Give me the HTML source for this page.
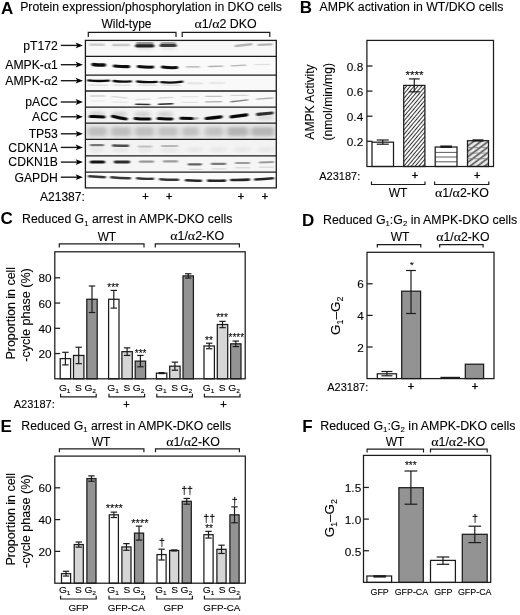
<!DOCTYPE html><html><head><meta charset="utf-8"><title>AMPK figure</title>
<style>html,body{margin:0;padding:0;background:#fff}svg{display:block}text{font-family:'Liberation Sans', sans-serif}</style></head><body>
<svg width="520" height="615" viewBox="0 0 520 615">
<defs>
<filter id="b1" filterUnits="userSpaceOnUse" x="80" y="36" width="200" height="156"><feGaussianBlur stdDeviation="1.2 0.7"/></filter>
<filter id="b2" filterUnits="userSpaceOnUse" x="80" y="36" width="200" height="156"><feGaussianBlur stdDeviation="2 1.6"/></filter>
<filter id="b0" filterUnits="userSpaceOnUse" x="80" y="36" width="200" height="156"><feGaussianBlur stdDeviation="0.9 0.5"/></filter>
<pattern id="hatch" width="2.9" height="2.9" patternUnits="userSpaceOnUse" patternTransform="rotate(-50)"><rect width="2.9" height="2.9" fill="#fff"/><line x1="0" y1="1.4" x2="2.9" y2="1.4" stroke="#222" stroke-width="0.95"/></pattern>
<pattern id="hatchg" width="4.4" height="4.4" patternUnits="userSpaceOnUse" patternTransform="rotate(-37)"><rect width="4.4" height="4.4" fill="#ececec"/><line x1="0" y1="2" x2="4.4" y2="2" stroke="#5a5a5a" stroke-width="1.7"/></pattern>
</defs>
<rect width="520" height="615" fill="#fff"/>
<text x="1.00" y="13.70" font-size="17" font-weight="bold" fill="#000">A</text>
<text transform="translate(20.20,10.80) scale(1.0,1)" font-size="12.00" text-anchor="start" font-weight="normal" fill="#000" stroke="#000" stroke-width="0.1"  textLength="261.80" lengthAdjust="spacingAndGlyphs">Protein expression/phosphorylation in DKO cells</text>
<text transform="translate(101.50,28.30) scale(1.0,1)" font-size="12.00" text-anchor="start" font-weight="normal" fill="#000" stroke="#000" stroke-width="0.1" >Wild-type</text>
<text transform="translate(194.50,28.30) scale(1.0,1)" font-size="12.00" text-anchor="start" font-weight="normal" fill="#000" stroke="#000" stroke-width="0.1"  textLength="62.20" lengthAdjust="spacingAndGlyphs"><tspan font-family="Liberation Serif" font-size="13.5">α</tspan>1/<tspan font-family="Liberation Serif" font-size="13.5">α</tspan>2 DKO</text>
<polyline points="88.30,37.00 88.30,32.40 176.00,32.40 176.00,37.00" fill="none" stroke="#1c1c1c" stroke-width="1.2"/>
<polyline points="182.20,37.00 182.20,32.40 269.80,32.40 269.80,37.00" fill="none" stroke="#1c1c1c" stroke-width="1.2"/>
<rect x="85.4" y="40.4" width="190.9" height="16.0" fill="#f8f8f8"/>
<rect x="85.4" y="56.4" width="190.9" height="18.699999999999996" fill="#fafafa"/>
<rect x="85.4" y="75.1" width="190.9" height="15.900000000000006" fill="#f9f9f9"/>
<rect x="85.4" y="91" width="190.9" height="16.200000000000003" fill="#f9f9f9"/>
<rect x="85.4" y="107.2" width="190.9" height="16.0" fill="#f3f3f3"/>
<rect x="85.4" y="123.2" width="190.9" height="16.200000000000003" fill="#e6e6e6"/>
<rect x="85.4" y="139.4" width="190.9" height="16.5" fill="#f3f3f3"/>
<rect x="85.4" y="155.9" width="190.9" height="16.19999999999999" fill="#f5f5f5"/>
<rect x="85.4" y="172.1" width="190.9" height="15.800000000000011" fill="#fbfbfb"/>
<path d="M90.3 44.6 Q97.0 44.7 103.7 44.8" fill="none" stroke="#000" stroke-width="2.6" stroke-linecap="round" opacity="0.17" filter="url(#b1)"/>
<path d="M113.3 45.0 Q121.0 45.0 128.7 45.0" fill="none" stroke="#000" stroke-width="2.6" stroke-linecap="round" opacity="0.19" filter="url(#b1)"/>
<path d="M136.6 45.8 Q144.8 45.8 152.9 45.8" fill="none" stroke="#000" stroke-width="3.2" stroke-linecap="round" opacity="0.85" filter="url(#b1)"/>
<path d="M137.2 43.2 Q144.8 43.2 152.3 43.2" fill="none" stroke="#000" stroke-width="2.4" stroke-linecap="round" opacity="0.4" filter="url(#b1)"/>
<rect x="137.0" y="46.0" width="16.0" height="4.0" rx="3" fill="#000" opacity="0.08" filter="url(#b2)"/>
<path d="M161.0 45.5 Q168.2 45.5 175.3 45.5" fill="none" stroke="#000" stroke-width="3.0" stroke-linecap="round" opacity="0.75" filter="url(#b1)"/>
<path d="M161.7 43.2 Q168.2 43.2 174.8 43.2" fill="none" stroke="#000" stroke-width="2.4" stroke-linecap="round" opacity="0.35" filter="url(#b1)"/>
<rect x="161.0" y="46.0" width="15.0" height="4.0" rx="3" fill="#000" opacity="0.07" filter="url(#b2)"/>
<path d="M235.7 46.0 Q243.5 45.1 251.3 44.2" fill="none" stroke="#000" stroke-width="2.4" stroke-linecap="round" opacity="0.27" filter="url(#b1)"/>
<path d="M258.7 44.9 Q265.1 44.6 271.6 44.4" fill="none" stroke="#000" stroke-width="2.4" stroke-linecap="round" opacity="0.27" filter="url(#b1)"/>
<path d="M93.0 64.5 Q98.7 65.2 104.4 65.0" fill="none" stroke="#000" stroke-width="3.4" stroke-linecap="round" opacity="0.95" filter="url(#b0)"/>
<path d="M114.4 66.0 Q121.5 66.7 128.6 66.6" fill="none" stroke="#000" stroke-width="3.2" stroke-linecap="round" opacity="0.95" filter="url(#b0)"/>
<path d="M138.4 66.4 Q145.6 67.3 152.7 67.1" fill="none" stroke="#000" stroke-width="3.0" stroke-linecap="round" opacity="0.95" filter="url(#b0)"/>
<path d="M162.5 67.0 Q169.6 68.1 176.7 67.6" fill="none" stroke="#000" stroke-width="3.0" stroke-linecap="round" opacity="0.95" filter="url(#b0)"/>
<path d="M186.5 66.8 Q193.0 66.8 199.5 66.8" fill="none" stroke="#000" stroke-width="1.3" stroke-linecap="round" opacity="0.3" filter="url(#b0)"/>
<path d="M208.6 66.5 Q215.6 66.3 222.7 66.1" fill="none" stroke="#000" stroke-width="1.3" stroke-linecap="round" opacity="0.3" filter="url(#b0)"/>
<path d="M231.1 65.8 Q238.4 65.5 245.7 65.2" fill="none" stroke="#000" stroke-width="1.3" stroke-linecap="round" opacity="0.28" filter="url(#b0)"/>
<path d="M254.6 64.7 Q262.2 64.5 269.8 64.3" fill="none" stroke="#000" stroke-width="1.2" stroke-linecap="round" opacity="0.1" filter="url(#b0)"/>
<path d="M88.2 80.4 Q98.5 81.5 108.8 80.6" fill="none" stroke="#000" stroke-width="2.3" stroke-linecap="round" opacity="0.95" filter="url(#b0)"/>
<path d="M113.7 81.0 Q122.2 82.2 130.8 81.3" fill="none" stroke="#000" stroke-width="2.3" stroke-linecap="round" opacity="0.95" filter="url(#b0)"/>
<path d="M137.2 81.5 Q147.0 82.7 156.8 81.8" fill="none" stroke="#000" stroke-width="2.3" stroke-linecap="round" opacity="0.95" filter="url(#b0)"/>
<path d="M161.2 82.2 Q171.8 83.1 182.3 81.6" fill="none" stroke="#000" stroke-width="2.3" stroke-linecap="round" opacity="0.95" filter="url(#b0)"/>
<path d="M88.8 85.0 Q98.0 85.2 107.2 85.3" fill="none" stroke="#000" stroke-width="1.6" stroke-linecap="round" opacity="0.1" filter="url(#b1)"/>
<path d="M113.8 85.0 Q122.0 85.2 130.2 85.3" fill="none" stroke="#000" stroke-width="1.6" stroke-linecap="round" opacity="0.1" filter="url(#b1)"/>
<path d="M137.8 85.0 Q147.0 85.2 156.2 85.3" fill="none" stroke="#000" stroke-width="1.6" stroke-linecap="round" opacity="0.1" filter="url(#b1)"/>
<path d="M161.8 85.0 Q171.0 85.2 180.2 85.3" fill="none" stroke="#000" stroke-width="1.6" stroke-linecap="round" opacity="0.1" filter="url(#b1)"/>
<path d="M188.2 83.2 Q195.0 83.2 201.8 83.2" fill="none" stroke="#000" stroke-width="2.5" stroke-linecap="round" opacity="0.07" filter="url(#b1)"/>
<path d="M210.2 83.0 Q217.0 83.0 223.8 83.0" fill="none" stroke="#000" stroke-width="2.5" stroke-linecap="round" opacity="0.06" filter="url(#b1)"/>
<path d="M90.5 96.1 Q97.5 96.1 104.5 96.1" fill="none" stroke="#000" stroke-width="1.5" stroke-linecap="round" opacity="0.16" filter="url(#b1)"/>
<path d="M90.8 101.0 Q97.5 101.0 104.2 101.0" fill="none" stroke="#000" stroke-width="1.5" stroke-linecap="round" opacity="0.05" filter="url(#b1)"/>
<path d="M111.8 96.6 Q119.2 97.3 126.8 98.0" fill="none" stroke="#000" stroke-width="1.5" stroke-linecap="round" opacity="0.12" filter="url(#b1)"/>
<path d="M112.7 102.0 Q120.0 102.2 127.3 102.5" fill="none" stroke="#000" stroke-width="1.4" stroke-linecap="round" opacity="0.06" filter="url(#b1)"/>
<path d="M135.7 99.6 Q142.7 99.4 149.7 99.2" fill="none" stroke="#000" stroke-width="1.3" stroke-linecap="round" opacity="0.12" filter="url(#b1)"/>
<path d="M135.8 104.2 Q142.7 104.3 149.6 104.5" fill="none" stroke="#000" stroke-width="1.5" stroke-linecap="round" opacity="0.8" filter="url(#b0)"/>
<path d="M158.7 98.0 Q165.7 97.7 172.8 97.4" fill="none" stroke="#000" stroke-width="1.3" stroke-linecap="round" opacity="0.14" filter="url(#b1)"/>
<path d="M158.8 104.3 Q165.7 104.0 172.7 103.8" fill="none" stroke="#000" stroke-width="1.5" stroke-linecap="round" opacity="0.85" filter="url(#b0)"/>
<path d="M181.6 96.7 Q189.7 96.7 197.7 96.7" fill="none" stroke="#000" stroke-width="1.2" stroke-linecap="round" opacity="0.08" filter="url(#b1)"/>
<path d="M181.6 102.4 Q189.7 102.4 197.7 102.4" fill="none" stroke="#000" stroke-width="1.2" stroke-linecap="round" opacity="0.08" filter="url(#b1)"/>
<path d="M205.6 96.3 Q213.7 96.3 221.7 96.3" fill="none" stroke="#000" stroke-width="1.2" stroke-linecap="round" opacity="0.22" filter="url(#b0)"/>
<path d="M205.7 101.9 Q213.7 101.8 221.7 101.7" fill="none" stroke="#000" stroke-width="1.3" stroke-linecap="round" opacity="0.3" filter="url(#b0)"/>
<path d="M231.0 95.3 Q239.4 95.3 247.7 95.3" fill="none" stroke="#000" stroke-width="1.2" stroke-linecap="round" opacity="0.14" filter="url(#b0)"/>
<path d="M231.1 101.8 Q239.4 100.8 247.6 99.9" fill="none" stroke="#000" stroke-width="1.4" stroke-linecap="round" opacity="0.5" filter="url(#b0)"/>
<path d="M256.6 99.2 Q264.6 98.6 272.7 98.0" fill="none" stroke="#000" stroke-width="1.3" stroke-linecap="round" opacity="0.3" filter="url(#b0)"/>
<rect x="89.8" y="111.5" width="14.7" height="5.5" rx="3" fill="#000" opacity="0.13" filter="url(#b2)"/>
<rect x="112.0" y="111.5" width="14.8" height="5.5" rx="3" fill="#000" opacity="0.13" filter="url(#b2)"/>
<rect x="134.6" y="111.5" width="15.7" height="5.5" rx="3" fill="#000" opacity="0.13" filter="url(#b2)"/>
<rect x="157.7" y="111.5" width="14.7" height="5.5" rx="3" fill="#000" opacity="0.13" filter="url(#b2)"/>
<path d="M90.3 116.6 Q97.2 116.4 104.0 117.0" fill="none" stroke="#000" stroke-width="3.0" stroke-linecap="round" opacity="0.97" filter="url(#b0)"/>
<path d="M112.5 116.3 Q119.4 118.2 126.3 118.9" fill="none" stroke="#000" stroke-width="3.0" stroke-linecap="round" opacity="0.97" filter="url(#b0)"/>
<path d="M135.1 118.5 Q142.4 119.3 149.8 119.0" fill="none" stroke="#000" stroke-width="3.0" stroke-linecap="round" opacity="0.97" filter="url(#b0)"/>
<path d="M158.2 118.6 Q165.1 119.3 171.9 118.9" fill="none" stroke="#000" stroke-width="3.0" stroke-linecap="round" opacity="0.97" filter="url(#b0)"/>
<path d="M181.0 118.2 Q186.5 118.4 192.0 118.6" fill="none" stroke="#000" stroke-width="3.0" stroke-linecap="round" opacity="0.97" filter="url(#b0)"/>
<path d="M193.1 118.6 Q195.2 118.5 197.4 118.4" fill="none" stroke="#000" stroke-width="2.2" stroke-linecap="round" opacity="0.3" filter="url(#b1)"/>
<path d="M206.2 118.5 Q213.6 117.7 221.1 116.8" fill="none" stroke="#000" stroke-width="3.2" stroke-linecap="round" opacity="0.97" filter="url(#b0)"/>
<path d="M231.2 116.9 Q238.9 115.8 246.7 114.8" fill="none" stroke="#000" stroke-width="3.2" stroke-linecap="round" opacity="0.97" filter="url(#b0)"/>
<path d="M257.6 114.4 Q264.9 113.7 272.1 113.0" fill="none" stroke="#000" stroke-width="3.2" stroke-linecap="round" opacity="0.8" filter="url(#b0)"/>
<rect x="257.0" y="115.0" width="16.0" height="5.0" rx="3" fill="#000" opacity="0.1" filter="url(#b2)"/>
<rect x="88.0" y="127.0" width="19.0" height="9.0" rx="3" fill="#000" opacity="0.17" filter="url(#b2)"/>
<rect x="111.0" y="127.0" width="20.0" height="9.0" rx="3" fill="#000" opacity="0.17" filter="url(#b2)"/>
<rect x="135.0" y="127.0" width="19.0" height="9.0" rx="3" fill="#000" opacity="0.16" filter="url(#b2)"/>
<rect x="158.0" y="127.0" width="20.0" height="9.0" rx="3" fill="#000" opacity="0.15" filter="url(#b2)"/>
<rect x="182.0" y="127.0" width="17.0" height="9.0" rx="3" fill="#000" opacity="0.15" filter="url(#b2)"/>
<rect x="205.0" y="127.0" width="18.3" height="9.0" rx="3" fill="#000" opacity="0.15" filter="url(#b2)"/>
<rect x="227.0" y="127.0" width="21.3" height="9.0" rx="3" fill="#000" opacity="0.21" filter="url(#b2)"/>
<rect x="251.0" y="127.0" width="23.2" height="9.0" rx="3" fill="#000" opacity="0.2" filter="url(#b2)"/>
<path d="M90.9 145.2 Q97.0 145.2 103.1 145.2" fill="none" stroke="#000" stroke-width="2.2" stroke-linecap="round" opacity="0.5" filter="url(#b1)"/>
<path d="M113.2 145.5 Q120.5 145.7 127.9 145.8" fill="none" stroke="#000" stroke-width="2.6" stroke-linecap="round" opacity="0.68" filter="url(#b1)"/>
<path d="M138.8 146.6 Q145.1 146.6 151.3 146.6" fill="none" stroke="#000" stroke-width="2" stroke-linecap="round" opacity="0.2" filter="url(#b1)"/>
<path d="M162.0 146.0 Q169.6 146.0 177.2 146.0" fill="none" stroke="#000" stroke-width="2" stroke-linecap="round" opacity="0.24" filter="url(#b1)"/>
<rect x="90.0" y="148.0" width="14.0" height="4.0" rx="3" fill="#000" opacity="0.05" filter="url(#b2)"/>
<rect x="112.0" y="148.0" width="17.0" height="4.0" rx="3" fill="#000" opacity="0.05" filter="url(#b2)"/>
<rect x="138.0" y="148.0" width="14.0" height="4.0" rx="3" fill="#000" opacity="0.05" filter="url(#b2)"/>
<rect x="161.0" y="148.0" width="17.0" height="4.0" rx="3" fill="#000" opacity="0.05" filter="url(#b2)"/>
<rect x="187.0" y="147.5" width="15.0" height="4.0" rx="3" fill="#000" opacity="0.05" filter="url(#b2)"/>
<rect x="210.0" y="147.5" width="16.0" height="4.0" rx="3" fill="#000" opacity="0.05" filter="url(#b2)"/>
<rect x="234.0" y="147.5" width="16.0" height="4.0" rx="3" fill="#000" opacity="0.05" filter="url(#b2)"/>
<rect x="258.0" y="147.5" width="16.0" height="4.0" rx="3" fill="#000" opacity="0.05" filter="url(#b2)"/>
<path d="M91.4 162.0 Q97.5 162.0 103.6 162.0" fill="none" stroke="#000" stroke-width="3.2" stroke-linecap="round" opacity="0.92" filter="url(#b1)"/>
<path d="M115.2 162.0 Q122.0 162.0 128.8 162.0" fill="none" stroke="#000" stroke-width="2.8" stroke-linecap="round" opacity="0.82" filter="url(#b1)"/>
<path d="M140.0 161.6 Q146.5 161.6 153.0 161.6" fill="none" stroke="#000" stroke-width="2.3" stroke-linecap="round" opacity="0.38" filter="url(#b1)"/>
<path d="M164.0 161.4 Q170.5 161.4 177.0 161.4" fill="none" stroke="#000" stroke-width="2.3" stroke-linecap="round" opacity="0.36" filter="url(#b1)"/>
<path d="M188.8 164.3 Q194.9 164.3 200.9 164.3" fill="none" stroke="#000" stroke-width="2.3" stroke-linecap="round" opacity="0.6" filter="url(#b1)"/>
<path d="M211.9 163.9 Q218.5 163.9 225.1 163.9" fill="none" stroke="#000" stroke-width="2.2" stroke-linecap="round" opacity="0.5" filter="url(#b1)"/>
<path d="M235.8 162.9 Q242.5 162.9 249.2 162.9" fill="none" stroke="#000" stroke-width="2" stroke-linecap="round" opacity="0.36" filter="url(#b1)"/>
<path d="M259.8 162.5 Q266.5 162.2 273.2 162.0" fill="none" stroke="#000" stroke-width="2" stroke-linecap="round" opacity="0.36" filter="url(#b1)"/>
<path d="M189.5 169.3 Q195.5 169.3 201.5 169.3" fill="none" stroke="#000" stroke-width="1" stroke-linecap="round" opacity="0.15" filter="url(#b1)"/>
<path d="M212.5 168.9 Q219.0 168.9 225.5 168.9" fill="none" stroke="#000" stroke-width="1" stroke-linecap="round" opacity="0.15" filter="url(#b1)"/>
<path d="M235.5 167.8 Q242.5 167.8 249.5 167.8" fill="none" stroke="#000" stroke-width="1" stroke-linecap="round" opacity="0.15" filter="url(#b1)"/>
<path d="M259.5 167.2 Q266.5 167.2 273.5 167.2" fill="none" stroke="#000" stroke-width="1" stroke-linecap="round" opacity="0.15" filter="url(#b1)"/>
<path d="M89.0 176.3 Q96.9 177.0 104.9 177.3" fill="none" stroke="#000" stroke-width="2.4" stroke-linecap="round" opacity="0.78" filter="url(#b1)"/>
<path d="M111.2 177.3 Q120.5 178.4 129.9 178.3" fill="none" stroke="#000" stroke-width="2.4" stroke-linecap="round" opacity="0.78" filter="url(#b1)"/>
<path d="M137.2 178.3 Q145.1 179.2 153.0 178.8" fill="none" stroke="#000" stroke-width="2.4" stroke-linecap="round" opacity="0.78" filter="url(#b1)"/>
<path d="M160.2 179.2 Q169.1 180.0 178.0 179.7" fill="none" stroke="#000" stroke-width="2.4" stroke-linecap="round" opacity="0.78" filter="url(#b1)"/>
<path d="M186.1 180.3 Q193.4 180.9 200.8 180.7" fill="none" stroke="#000" stroke-width="2.6" stroke-linecap="round" opacity="0.85" filter="url(#b1)"/>
<path d="M208.3 180.6 Q216.6 181.0 224.9 180.6" fill="none" stroke="#000" stroke-width="2.6" stroke-linecap="round" opacity="0.85" filter="url(#b1)"/>
<path d="M231.3 180.0 Q240.1 180.2 248.9 179.6" fill="none" stroke="#000" stroke-width="2.6" stroke-linecap="round" opacity="0.85" filter="url(#b1)"/>
<path d="M255.3 179.5 Q264.1 179.3 272.9 178.3" fill="none" stroke="#000" stroke-width="2.6" stroke-linecap="round" opacity="0.85" filter="url(#b1)"/>
<line x1="85.40" y1="56.40" x2="276.30" y2="56.40" stroke="#1c1c1c" stroke-width="1.3"/>
<line x1="85.40" y1="75.10" x2="276.30" y2="75.10" stroke="#1c1c1c" stroke-width="1.3"/>
<line x1="85.40" y1="91.00" x2="276.30" y2="91.00" stroke="#1c1c1c" stroke-width="1.3"/>
<line x1="85.40" y1="107.20" x2="276.30" y2="107.20" stroke="#1c1c1c" stroke-width="1.3"/>
<line x1="85.40" y1="123.20" x2="276.30" y2="123.20" stroke="#1c1c1c" stroke-width="1.3"/>
<line x1="85.40" y1="139.40" x2="276.30" y2="139.40" stroke="#1c1c1c" stroke-width="1.3"/>
<line x1="85.40" y1="155.90" x2="276.30" y2="155.90" stroke="#1c1c1c" stroke-width="1.3"/>
<line x1="85.40" y1="172.10" x2="276.30" y2="172.10" stroke="#1c1c1c" stroke-width="1.3"/>
<rect x="85.40" y="40.40" width="190.90" height="147.50" fill="none" stroke="#1c1c1c" stroke-width="1.3" />
<text transform="translate(57.80,49.70) scale(1.0,1)" font-size="12.20" text-anchor="end" font-weight="normal" fill="#000" stroke="#000" stroke-width="0.1" >pT172</text>
<line x1="60.80" y1="45.40" x2="79.00" y2="45.40" stroke="#1c1c1c" stroke-width="1.4"/>
<path d="M82.9 45.4 L75.6 42.5 L77.4 45.4 L75.6 48.3 Z" fill="#000"/>
<text transform="translate(57.80,69.00) scale(1.0,1)" font-size="12.20" text-anchor="end" font-weight="normal" fill="#000" stroke="#000" stroke-width="0.1" >AMPK-<tspan font-family="Liberation Serif" font-size="13.5">α</tspan>1</text>
<line x1="60.80" y1="64.70" x2="79.00" y2="64.70" stroke="#1c1c1c" stroke-width="1.4"/>
<path d="M82.9 64.7 L75.6 61.8 L77.4 64.7 L75.6 67.6 Z" fill="#000"/>
<text transform="translate(57.80,85.00) scale(1.0,1)" font-size="12.20" text-anchor="end" font-weight="normal" fill="#000" stroke="#000" stroke-width="0.1" >AMPK-<tspan font-family="Liberation Serif" font-size="13.5">α</tspan>2</text>
<line x1="60.80" y1="80.70" x2="79.00" y2="80.70" stroke="#1c1c1c" stroke-width="1.4"/>
<path d="M82.9 80.7 L75.6 77.8 L77.4 80.7 L75.6 83.6 Z" fill="#000"/>
<text transform="translate(57.80,106.30) scale(1.0,1)" font-size="12.20" text-anchor="end" font-weight="normal" fill="#000" stroke="#000" stroke-width="0.1" >pACC</text>
<line x1="60.80" y1="102.00" x2="79.00" y2="102.00" stroke="#1c1c1c" stroke-width="1.4"/>
<path d="M82.9 102.0 L75.6 99.1 L77.4 102.0 L75.6 104.9 Z" fill="#000"/>
<text transform="translate(57.80,121.10) scale(1.0,1)" font-size="12.20" text-anchor="end" font-weight="normal" fill="#000" stroke="#000" stroke-width="0.1" >ACC</text>
<line x1="60.80" y1="116.80" x2="79.00" y2="116.80" stroke="#1c1c1c" stroke-width="1.4"/>
<path d="M82.9 116.8 L75.6 113.9 L77.4 116.8 L75.6 119.7 Z" fill="#000"/>
<text transform="translate(57.80,138.10) scale(1.0,1)" font-size="12.20" text-anchor="end" font-weight="normal" fill="#000" stroke="#000" stroke-width="0.1" >TP53</text>
<line x1="60.80" y1="133.80" x2="79.00" y2="133.80" stroke="#1c1c1c" stroke-width="1.4"/>
<path d="M82.9 133.8 L75.6 130.9 L77.4 133.8 L75.6 136.7 Z" fill="#000"/>
<text transform="translate(57.80,151.70) scale(1.0,1)" font-size="12.20" text-anchor="end" font-weight="normal" fill="#000" stroke="#000" stroke-width="0.1" >CDKN1A</text>
<line x1="60.80" y1="147.40" x2="79.00" y2="147.40" stroke="#1c1c1c" stroke-width="1.4"/>
<path d="M82.9 147.4 L75.6 144.5 L77.4 147.4 L75.6 150.3 Z" fill="#000"/>
<text transform="translate(57.80,166.40) scale(1.0,1)" font-size="12.20" text-anchor="end" font-weight="normal" fill="#000" stroke="#000" stroke-width="0.1" >CDKN1B</text>
<line x1="60.80" y1="162.10" x2="79.00" y2="162.10" stroke="#1c1c1c" stroke-width="1.4"/>
<path d="M82.9 162.1 L75.6 159.2 L77.4 162.1 L75.6 165.0 Z" fill="#000"/>
<text transform="translate(57.80,181.50) scale(1.0,1)" font-size="12.20" text-anchor="end" font-weight="normal" fill="#000" stroke="#000" stroke-width="0.1" >GAPDH</text>
<line x1="60.80" y1="177.20" x2="79.00" y2="177.20" stroke="#1c1c1c" stroke-width="1.4"/>
<path d="M82.9 177.2 L75.6 174.3 L77.4 177.2 L75.6 180.1 Z" fill="#000"/>
<text transform="translate(40.00,200.80) scale(1.0,1)" font-size="12.00" text-anchor="start" font-weight="normal" fill="#000" stroke="#000" stroke-width="0.1"  textLength="44.80" lengthAdjust="spacingAndGlyphs">A21387:</text>
<text transform="translate(145.40,199.50) scale(1,1)" font-size="11.00" text-anchor="middle" font-weight="normal" fill="#000" stroke="#000" stroke-width="0.35" >+</text>
<text transform="translate(169.20,199.50) scale(1,1)" font-size="11.00" text-anchor="middle" font-weight="normal" fill="#000" stroke="#000" stroke-width="0.35" >+</text>
<text transform="translate(241.00,199.50) scale(1,1)" font-size="11.00" text-anchor="middle" font-weight="normal" fill="#000" stroke="#000" stroke-width="0.35" >+</text>
<text transform="translate(265.00,199.50) scale(1,1)" font-size="11.00" text-anchor="middle" font-weight="normal" fill="#000" stroke="#000" stroke-width="0.35" >+</text>
<text x="299.80" y="13.30" font-size="17" font-weight="bold" fill="#000">B</text>
<text transform="translate(319.60,10.90) scale(1.0,1)" font-size="12.00" text-anchor="start" font-weight="normal" fill="#000" stroke="#000" stroke-width="0.1"  textLength="183.80" lengthAdjust="spacingAndGlyphs">AMPK activation in WT/DKO cells</text>
<rect x="372.00" y="142.18" width="21.50" height="24.32" fill="#fff" stroke="#1c1c1c" stroke-width="1.25" />
<line x1="382.75" y1="140.00" x2="382.75" y2="144.20" stroke="#1c1c1c" stroke-width="1.2"/>
<line x1="376.75" y1="140.00" x2="388.75" y2="140.00" stroke="#1c1c1c" stroke-width="1.2"/>
<line x1="376.75" y1="144.20" x2="388.75" y2="144.20" stroke="#1c1c1c" stroke-width="1.2"/>
<rect x="403.7" y="85.4" width="21.2" height="81.10" fill="url(#hatch)" stroke="#1c1c1c" stroke-width="1.25"/>
<line x1="414.30" y1="78.90" x2="414.30" y2="91.80" stroke="#1c1c1c" stroke-width="1.2"/>
<line x1="408.90" y1="78.90" x2="419.70" y2="78.90" stroke="#1c1c1c" stroke-width="1.2"/>
<line x1="408.90" y1="91.80" x2="419.70" y2="91.80" stroke="#1c1c1c" stroke-width="1.2"/>
<text transform="translate(414.50,78.60) scale(1.0,1)" font-size="11.60" text-anchor="middle" font-weight="normal" fill="#000" stroke="#000" stroke-width="0.1" >****</text>
<rect x="435.20" y="147.00" width="21.80" height="19.50" fill="#fff" stroke="#1c1c1c" stroke-width="1.25" />
<line x1="435.20" y1="152.40" x2="457.00" y2="152.40" stroke="#333" stroke-width="0.8"/>
<line x1="435.20" y1="157.00" x2="457.00" y2="157.00" stroke="#333" stroke-width="0.8"/>
<line x1="435.20" y1="161.80" x2="457.00" y2="161.80" stroke="#333" stroke-width="0.8"/>
<line x1="440.30" y1="146.70" x2="451.90" y2="146.70" stroke="#1c1c1c" stroke-width="2.5"/>
<rect x="467.5" y="140.7" width="21" height="25.80" fill="url(#hatchg)" stroke="#1c1c1c" stroke-width="1.25"/>
<line x1="467.50" y1="147.50" x2="488.50" y2="147.50" stroke="#777" stroke-width="0.7"/>
<line x1="467.50" y1="153.10" x2="488.50" y2="153.10" stroke="#777" stroke-width="0.7"/>
<line x1="467.50" y1="158.70" x2="488.50" y2="158.70" stroke="#777" stroke-width="0.7"/>
<line x1="472.50" y1="140.40" x2="483.50" y2="140.40" stroke="#1c1c1c" stroke-width="2.2"/>
<rect x="366.90" y="40.40" width="126.60" height="126.10" fill="none" stroke="#1c1c1c" stroke-width="1.25" />
<line x1="366.90" y1="141.30" x2="372.50" y2="141.30" stroke="#1c1c1c" stroke-width="1.25"/>
<text transform="translate(363.20,145.80) scale(1.0,1)" font-size="11.80" text-anchor="end" font-weight="normal" fill="#000" stroke="#000" stroke-width="0.1" >0.2</text>
<line x1="366.90" y1="116.20" x2="372.50" y2="116.20" stroke="#1c1c1c" stroke-width="1.25"/>
<text transform="translate(363.20,120.70) scale(1.0,1)" font-size="11.80" text-anchor="end" font-weight="normal" fill="#000" stroke="#000" stroke-width="0.1" >0.4</text>
<line x1="366.90" y1="91.10" x2="372.50" y2="91.10" stroke="#1c1c1c" stroke-width="1.25"/>
<text transform="translate(363.20,95.60) scale(1.0,1)" font-size="11.80" text-anchor="end" font-weight="normal" fill="#000" stroke="#000" stroke-width="0.1" >0.6</text>
<line x1="366.90" y1="66.00" x2="372.50" y2="66.00" stroke="#1c1c1c" stroke-width="1.25"/>
<text transform="translate(363.20,70.50) scale(1.0,1)" font-size="11.80" text-anchor="end" font-weight="normal" fill="#000" stroke="#000" stroke-width="0.1" >0.8</text>
<text transform="translate(313.90,102.00) rotate(-90) scale(1.0,1)" font-size="12.10" text-anchor="middle" fill="#000" stroke="#000" stroke-width="0.1">AMPK Activity</text>
<text transform="translate(332.40,101.80) rotate(-90) scale(1.0,1)" font-size="12.15" text-anchor="middle" fill="#000" stroke="#000" stroke-width="0.1">(nmol/min/mg)</text>
<text transform="translate(319.20,180.40) scale(1,1)" font-size="11.00" text-anchor="start" font-weight="normal" fill="#000" stroke="#000" stroke-width="0.1" >A23187:</text>
<text transform="translate(415.00,179.30) scale(1,1)" font-size="11.00" text-anchor="middle" font-weight="normal" fill="#000" stroke="#000" stroke-width="0.35" >+</text>
<text transform="translate(477.30,179.30) scale(1,1)" font-size="11.00" text-anchor="middle" font-weight="normal" fill="#000" stroke="#000" stroke-width="0.35" >+</text>
<polyline points="371.50,181.50 371.50,184.50 425.00,184.50 425.00,181.50" fill="none" stroke="#1c1c1c" stroke-width="1.2"/>
<polyline points="434.60,181.50 434.60,184.50 488.80,184.50 488.80,181.50" fill="none" stroke="#1c1c1c" stroke-width="1.2"/>
<text transform="translate(398.10,196.70) scale(1.0,1)" font-size="12.00" text-anchor="middle" font-weight="normal" fill="#000" stroke="#000" stroke-width="0.1" >WT</text>
<text transform="translate(435.00,196.70) scale(1.0,1)" font-size="12.00" text-anchor="start" font-weight="normal" fill="#000" stroke="#000" stroke-width="0.1"  textLength="53.80" lengthAdjust="spacingAndGlyphs"><tspan font-family="Liberation Serif" font-size="13.5">α</tspan>1/<tspan font-family="Liberation Serif" font-size="13.5">α</tspan>2-KO</text>
<text x="0.40" y="224.10" font-size="17" font-weight="bold" fill="#000">C</text>
<text transform="translate(22.10,223.20) scale(1.0,1)" font-size="12.00" text-anchor="start" font-weight="normal" fill="#000" stroke="#000" stroke-width="0.1"  textLength="210.20" lengthAdjust="spacingAndGlyphs">Reduced G<tspan font-size="7.6" dy="2.3">1</tspan><tspan dy="-2.3" font-size="1">&#8203;</tspan> arrest in AMPK-DKO cells</text>
<text transform="translate(106.90,240.70) scale(1.0,1)" font-size="11.90" text-anchor="middle" font-weight="normal" fill="#000" stroke="#000" stroke-width="0.1" >WT</text>
<text transform="translate(170.20,240.40) scale(1.0,1)" font-size="12.00" text-anchor="start" font-weight="normal" fill="#000" stroke="#000" stroke-width="0.1"  textLength="54.00" lengthAdjust="spacingAndGlyphs"><tspan font-family="Liberation Serif" font-size="13.5">α</tspan>1/<tspan font-family="Liberation Serif" font-size="13.5">α</tspan>2-KO</text>
<polyline points="59.30,247.40 59.30,243.90 144.00,243.90 144.00,247.40" fill="none" stroke="#1c1c1c" stroke-width="1.2"/>
<polyline points="155.30,247.40 155.30,243.90 239.40,243.90 239.40,247.40" fill="none" stroke="#1c1c1c" stroke-width="1.2"/>
<rect x="60.20" y="358.60" width="10.40" height="20.20" fill="#fff" stroke="#1c1c1c" stroke-width="1.25" />
<line x1="65.40" y1="352.29" x2="65.40" y2="364.91" stroke="#1c1c1c" stroke-width="1.2"/>
<line x1="62.20" y1="352.29" x2="68.60" y2="352.29" stroke="#1c1c1c" stroke-width="1.2"/>
<line x1="62.20" y1="364.91" x2="68.60" y2="364.91" stroke="#1c1c1c" stroke-width="1.2"/>
<rect x="73.50" y="355.44" width="10.40" height="23.36" fill="#d6d6d6" stroke="#1c1c1c" stroke-width="1.25" />
<line x1="78.70" y1="347.24" x2="78.70" y2="363.65" stroke="#1c1c1c" stroke-width="1.2"/>
<line x1="75.50" y1="347.24" x2="81.90" y2="347.24" stroke="#1c1c1c" stroke-width="1.2"/>
<line x1="75.50" y1="363.65" x2="81.90" y2="363.65" stroke="#1c1c1c" stroke-width="1.2"/>
<rect x="86.80" y="299.26" width="10.40" height="79.54" fill="#939393" stroke="#1c1c1c" stroke-width="1.25" />
<line x1="92.00" y1="286.01" x2="92.00" y2="312.52" stroke="#1c1c1c" stroke-width="1.2"/>
<line x1="88.80" y1="286.01" x2="95.20" y2="286.01" stroke="#1c1c1c" stroke-width="1.2"/>
<line x1="88.80" y1="312.52" x2="95.20" y2="312.52" stroke="#1c1c1c" stroke-width="1.2"/>
<rect x="108.60" y="299.26" width="10.40" height="79.54" fill="#fff" stroke="#1c1c1c" stroke-width="1.25" />
<line x1="113.80" y1="290.43" x2="113.80" y2="308.10" stroke="#1c1c1c" stroke-width="1.2"/>
<line x1="110.60" y1="290.43" x2="117.00" y2="290.43" stroke="#1c1c1c" stroke-width="1.2"/>
<line x1="110.60" y1="308.10" x2="117.00" y2="308.10" stroke="#1c1c1c" stroke-width="1.2"/>
<rect x="121.90" y="351.66" width="10.40" height="27.14" fill="#d6d6d6" stroke="#1c1c1c" stroke-width="1.25" />
<line x1="127.10" y1="347.87" x2="127.10" y2="355.44" stroke="#1c1c1c" stroke-width="1.2"/>
<line x1="123.90" y1="347.87" x2="130.30" y2="347.87" stroke="#1c1c1c" stroke-width="1.2"/>
<line x1="123.90" y1="355.44" x2="130.30" y2="355.44" stroke="#1c1c1c" stroke-width="1.2"/>
<rect x="135.20" y="361.12" width="10.40" height="17.68" fill="#939393" stroke="#1c1c1c" stroke-width="1.25" />
<line x1="140.40" y1="355.44" x2="140.40" y2="366.81" stroke="#1c1c1c" stroke-width="1.2"/>
<line x1="137.20" y1="355.44" x2="143.60" y2="355.44" stroke="#1c1c1c" stroke-width="1.2"/>
<line x1="137.20" y1="366.81" x2="143.60" y2="366.81" stroke="#1c1c1c" stroke-width="1.2"/>
<rect x="156.40" y="373.12" width="10.40" height="5.68" fill="#fff" stroke="#1c1c1c" stroke-width="1.25" />
<line x1="158.60" y1="373.12" x2="164.60" y2="373.12" stroke="#1c1c1c" stroke-width="2.2"/>
<rect x="169.70" y="366.18" width="10.40" height="12.62" fill="#d6d6d6" stroke="#1c1c1c" stroke-width="1.25" />
<line x1="174.90" y1="362.13" x2="174.90" y2="370.22" stroke="#1c1c1c" stroke-width="1.2"/>
<line x1="171.70" y1="362.13" x2="178.10" y2="362.13" stroke="#1c1c1c" stroke-width="1.2"/>
<line x1="171.70" y1="370.22" x2="178.10" y2="370.22" stroke="#1c1c1c" stroke-width="1.2"/>
<rect x="183.00" y="275.91" width="10.40" height="102.89" fill="#939393" stroke="#1c1c1c" stroke-width="1.25" />
<line x1="188.20" y1="273.76" x2="188.20" y2="278.05" stroke="#1c1c1c" stroke-width="1.2"/>
<line x1="185.00" y1="273.76" x2="191.40" y2="273.76" stroke="#1c1c1c" stroke-width="1.2"/>
<line x1="185.00" y1="278.05" x2="191.40" y2="278.05" stroke="#1c1c1c" stroke-width="1.2"/>
<rect x="204.00" y="345.98" width="10.40" height="32.82" fill="#fff" stroke="#1c1c1c" stroke-width="1.25" />
<line x1="209.20" y1="343.20" x2="209.20" y2="348.75" stroke="#1c1c1c" stroke-width="1.2"/>
<line x1="206.00" y1="343.20" x2="212.40" y2="343.20" stroke="#1c1c1c" stroke-width="1.2"/>
<line x1="206.00" y1="348.75" x2="212.40" y2="348.75" stroke="#1c1c1c" stroke-width="1.2"/>
<rect x="217.30" y="324.51" width="10.40" height="54.29" fill="#d6d6d6" stroke="#1c1c1c" stroke-width="1.25" />
<line x1="222.50" y1="321.36" x2="222.50" y2="327.67" stroke="#1c1c1c" stroke-width="1.2"/>
<line x1="219.30" y1="321.36" x2="225.70" y2="321.36" stroke="#1c1c1c" stroke-width="1.2"/>
<line x1="219.30" y1="327.67" x2="225.70" y2="327.67" stroke="#1c1c1c" stroke-width="1.2"/>
<rect x="230.60" y="343.83" width="10.40" height="34.97" fill="#939393" stroke="#1c1c1c" stroke-width="1.25" />
<line x1="235.80" y1="341.05" x2="235.80" y2="346.61" stroke="#1c1c1c" stroke-width="1.2"/>
<line x1="232.60" y1="341.05" x2="239.00" y2="341.05" stroke="#1c1c1c" stroke-width="1.2"/>
<line x1="232.60" y1="346.61" x2="239.00" y2="346.61" stroke="#1c1c1c" stroke-width="1.2"/>
<text transform="translate(113.10,290.80) scale(1.0,1)" font-size="10.00" text-anchor="middle" font-weight="normal" fill="#000" stroke="#000" stroke-width="0.1" >***</text>
<text transform="translate(140.60,356.50) scale(1.0,1)" font-size="10.00" text-anchor="middle" font-weight="normal" fill="#000" stroke="#000" stroke-width="0.1" >***</text>
<text transform="translate(209.00,344.40) scale(1.0,1)" font-size="10.00" text-anchor="middle" font-weight="normal" fill="#000" stroke="#000" stroke-width="0.1" >**</text>
<text transform="translate(222.00,320.50) scale(1.0,1)" font-size="10.00" text-anchor="middle" font-weight="normal" fill="#000" stroke="#000" stroke-width="0.1" >***</text>
<text transform="translate(236.30,341.10) scale(1.0,1)" font-size="10.00" text-anchor="middle" font-weight="normal" fill="#000" stroke="#000" stroke-width="0.1" >****</text>
<rect x="54.80" y="251.80" width="190.40" height="127.00" fill="none" stroke="#1c1c1c" stroke-width="1.25" />
<line x1="54.80" y1="353.55" x2="60.20" y2="353.55" stroke="#1c1c1c" stroke-width="1.25"/>
<text transform="translate(51.50,358.15) scale(1.0,1)" font-size="11.80" text-anchor="end" font-weight="normal" fill="#000" stroke="#000" stroke-width="0.1" >20</text>
<line x1="54.80" y1="328.30" x2="60.20" y2="328.30" stroke="#1c1c1c" stroke-width="1.25"/>
<text transform="translate(51.50,332.90) scale(1.0,1)" font-size="11.80" text-anchor="end" font-weight="normal" fill="#000" stroke="#000" stroke-width="0.1" >40</text>
<line x1="54.80" y1="303.05" x2="60.20" y2="303.05" stroke="#1c1c1c" stroke-width="1.25"/>
<text transform="translate(51.50,307.65) scale(1.0,1)" font-size="11.80" text-anchor="end" font-weight="normal" fill="#000" stroke="#000" stroke-width="0.1" >60</text>
<line x1="54.80" y1="277.80" x2="60.20" y2="277.80" stroke="#1c1c1c" stroke-width="1.25"/>
<text transform="translate(51.50,282.40) scale(1.0,1)" font-size="11.80" text-anchor="end" font-weight="normal" fill="#000" stroke="#000" stroke-width="0.1" >80</text>
<text transform="translate(14.80,313.20) rotate(-90) scale(1.0,1)" font-size="12.45" text-anchor="middle" fill="#000" stroke="#000" stroke-width="0.1">Proportion in cell</text>
<text transform="translate(30.30,315.00) rotate(-90) scale(1.0,1)" font-size="12.55" text-anchor="middle" fill="#000" stroke="#000" stroke-width="0.1">-cycle phase (%)</text>
<text transform="translate(58.90,391.30) scale(1.11,1)" font-size="9.19" text-anchor="start" font-weight="normal" fill="#000" stroke="#000" stroke-width="0.1" >G<tspan font-size="6" dy="1.8">1</tspan><tspan dy="-1.8" font-size="1">&#8203;</tspan></text>
<text transform="translate(78.40,391.30) scale(1.11,1)" font-size="9.19" text-anchor="middle" font-weight="normal" fill="#000" stroke="#000" stroke-width="0.1" >S</text>
<text transform="translate(84.40,391.30) scale(1.11,1)" font-size="9.19" text-anchor="start" font-weight="normal" fill="#000" stroke="#000" stroke-width="0.1" >G<tspan font-size="6" dy="1.8">2</tspan><tspan dy="-1.8" font-size="1">&#8203;</tspan></text>
<polyline points="60.60,393.80 60.60,396.80 96.20,396.80 96.20,393.80" fill="none" stroke="#1c1c1c" stroke-width="1.2"/>
<text transform="translate(107.30,391.30) scale(1.11,1)" font-size="9.19" text-anchor="start" font-weight="normal" fill="#000" stroke="#000" stroke-width="0.1" >G<tspan font-size="6" dy="1.8">1</tspan><tspan dy="-1.8" font-size="1">&#8203;</tspan></text>
<text transform="translate(126.80,391.30) scale(1.11,1)" font-size="9.19" text-anchor="middle" font-weight="normal" fill="#000" stroke="#000" stroke-width="0.1" >S</text>
<text transform="translate(132.80,391.30) scale(1.11,1)" font-size="9.19" text-anchor="start" font-weight="normal" fill="#000" stroke="#000" stroke-width="0.1" >G<tspan font-size="6" dy="1.8">2</tspan><tspan dy="-1.8" font-size="1">&#8203;</tspan></text>
<polyline points="109.00,393.80 109.00,396.80 144.60,396.80 144.60,393.80" fill="none" stroke="#1c1c1c" stroke-width="1.2"/>
<text transform="translate(155.10,391.30) scale(1.11,1)" font-size="9.19" text-anchor="start" font-weight="normal" fill="#000" stroke="#000" stroke-width="0.1" >G<tspan font-size="6" dy="1.8">1</tspan><tspan dy="-1.8" font-size="1">&#8203;</tspan></text>
<text transform="translate(174.60,391.30) scale(1.11,1)" font-size="9.19" text-anchor="middle" font-weight="normal" fill="#000" stroke="#000" stroke-width="0.1" >S</text>
<text transform="translate(180.60,391.30) scale(1.11,1)" font-size="9.19" text-anchor="start" font-weight="normal" fill="#000" stroke="#000" stroke-width="0.1" >G<tspan font-size="6" dy="1.8">2</tspan><tspan dy="-1.8" font-size="1">&#8203;</tspan></text>
<polyline points="156.80,393.80 156.80,396.80 192.40,396.80 192.40,393.80" fill="none" stroke="#1c1c1c" stroke-width="1.2"/>
<text transform="translate(202.70,391.30) scale(1.11,1)" font-size="9.19" text-anchor="start" font-weight="normal" fill="#000" stroke="#000" stroke-width="0.1" >G<tspan font-size="6" dy="1.8">1</tspan><tspan dy="-1.8" font-size="1">&#8203;</tspan></text>
<text transform="translate(222.20,391.30) scale(1.11,1)" font-size="9.19" text-anchor="middle" font-weight="normal" fill="#000" stroke="#000" stroke-width="0.1" >S</text>
<text transform="translate(228.20,391.30) scale(1.11,1)" font-size="9.19" text-anchor="start" font-weight="normal" fill="#000" stroke="#000" stroke-width="0.1" >G<tspan font-size="6" dy="1.8">2</tspan><tspan dy="-1.8" font-size="1">&#8203;</tspan></text>
<polyline points="204.40,393.80 204.40,396.80 240.00,396.80 240.00,393.80" fill="none" stroke="#1c1c1c" stroke-width="1.2"/>
<text transform="translate(13.75,408.30) scale(1,1)" font-size="11.00" text-anchor="start" font-weight="normal" fill="#000" stroke="#000" stroke-width="0.1" >A23187:</text>
<text transform="translate(126.40,407.90) scale(1,1)" font-size="11.00" text-anchor="middle" font-weight="normal" fill="#000" stroke="#000" stroke-width="0.35" >+</text>
<text transform="translate(223.40,407.90) scale(1,1)" font-size="11.00" text-anchor="middle" font-weight="normal" fill="#000" stroke="#000" stroke-width="0.35" >+</text>
<text x="302.00" y="225.80" font-size="17" font-weight="bold" fill="#000">D</text>
<text transform="translate(323.00,224.00) scale(1.0,1)" font-size="12.00" text-anchor="start" font-weight="normal" fill="#000" stroke="#000" stroke-width="0.1"  textLength="194.20" lengthAdjust="spacingAndGlyphs">Reduced G<tspan font-size="7.6" dy="2.3">1</tspan><tspan dy="-2.3" font-size="1">&#8203;</tspan>:G<tspan font-size="7.6" dy="2.3">2</tspan><tspan dy="-2.3" font-size="1">&#8203;</tspan> in AMPK-DKO cells</text>
<text transform="translate(400.00,240.50) scale(1.0,1)" font-size="12.00" text-anchor="middle" font-weight="normal" fill="#000" stroke="#000" stroke-width="0.1" >WT</text>
<text transform="translate(436.20,240.50) scale(1.0,1)" font-size="12.00" text-anchor="start" font-weight="normal" fill="#000" stroke="#000" stroke-width="0.1"  textLength="53.40" lengthAdjust="spacingAndGlyphs"><tspan font-family="Liberation Serif" font-size="13.5">α</tspan>1/<tspan font-family="Liberation Serif" font-size="13.5">α</tspan>2-KO</text>
<polyline points="377.30,247.60 377.30,244.60 420.80,244.60 420.80,247.60" fill="none" stroke="#1c1c1c" stroke-width="1.2"/>
<polyline points="439.70,247.60 439.70,244.60 483.10,244.60 483.10,247.60" fill="none" stroke="#1c1c1c" stroke-width="1.2"/>
<rect x="377.30" y="373.80" width="19.20" height="4.80" fill="#fff" stroke="#1c1c1c" stroke-width="1.25" />
<line x1="386.90" y1="371.50" x2="386.90" y2="375.80" stroke="#1c1c1c" stroke-width="1.2"/>
<line x1="381.40" y1="371.50" x2="392.40" y2="371.50" stroke="#1c1c1c" stroke-width="1.2"/>
<line x1="381.40" y1="375.80" x2="392.40" y2="375.80" stroke="#1c1c1c" stroke-width="1.2"/>
<rect x="401.70" y="291.20" width="18.90" height="87.40" fill="#939393" stroke="#1c1c1c" stroke-width="1.25" />
<line x1="411.00" y1="270.50" x2="411.00" y2="313.50" stroke="#1c1c1c" stroke-width="1.2"/>
<line x1="406.10" y1="270.50" x2="415.90" y2="270.50" stroke="#1c1c1c" stroke-width="1.2"/>
<line x1="406.10" y1="313.50" x2="415.90" y2="313.50" stroke="#1c1c1c" stroke-width="1.2"/>
<text transform="translate(411.80,268.40) scale(1.0,1)" font-size="9.50" text-anchor="middle" font-weight="normal" fill="#000" stroke="#000" stroke-width="0.1" >*</text>
<line x1="440.40" y1="377.60" x2="460.00" y2="377.60" stroke="#1c1c1c" stroke-width="1.6"/>
<rect x="465.30" y="364.20" width="18.30" height="14.40" fill="#939393" stroke="#1c1c1c" stroke-width="1.25" />
<rect x="367.00" y="252.30" width="127.00" height="126.30" fill="none" stroke="#1c1c1c" stroke-width="1.25" />
<line x1="367.00" y1="347.00" x2="372.60" y2="347.00" stroke="#1c1c1c" stroke-width="1.25"/>
<text transform="translate(363.90,351.60) scale(1.0,1)" font-size="11.80" text-anchor="end" font-weight="normal" fill="#000" stroke="#000" stroke-width="0.1" >2</text>
<line x1="367.00" y1="315.40" x2="372.60" y2="315.40" stroke="#1c1c1c" stroke-width="1.25"/>
<text transform="translate(363.90,320.00) scale(1.0,1)" font-size="11.80" text-anchor="end" font-weight="normal" fill="#000" stroke="#000" stroke-width="0.1" >4</text>
<line x1="367.00" y1="283.80" x2="372.60" y2="283.80" stroke="#1c1c1c" stroke-width="1.25"/>
<text transform="translate(363.90,288.40) scale(1.0,1)" font-size="11.80" text-anchor="end" font-weight="normal" fill="#000" stroke="#000" stroke-width="0.1" >6</text>
<text transform="translate(340.40,315.80) rotate(-90) scale(1,1)" font-size="13.50" text-anchor="middle" fill="#000" stroke="#000" stroke-width="0.1">G<tspan font-size="8.8" dy="3">1</tspan><tspan dy="-3" font-size="1">&#8203;</tspan>–G<tspan font-size="8.8" dy="3">2</tspan><tspan dy="-3" font-size="1">&#8203;</tspan></text>
<text transform="translate(327.20,390.50) scale(1,1)" font-size="11.00" text-anchor="start" font-weight="normal" fill="#000" stroke="#000" stroke-width="0.1" >A23187:</text>
<text transform="translate(411.00,390.00) scale(1,1)" font-size="11.00" text-anchor="middle" font-weight="normal" fill="#000" stroke="#000" stroke-width="0.35" >+</text>
<text transform="translate(475.00,390.00) scale(1,1)" font-size="11.00" text-anchor="middle" font-weight="normal" fill="#000" stroke="#000" stroke-width="0.35" >+</text>
<text x="0.50" y="432.10" font-size="17" font-weight="bold" fill="#000">E</text>
<text transform="translate(21.30,429.60) scale(1.0,1)" font-size="12.00" text-anchor="start" font-weight="normal" fill="#000" stroke="#000" stroke-width="0.1"  textLength="209.90" lengthAdjust="spacingAndGlyphs">Reduced G<tspan font-size="7.6" dy="2.3">1</tspan><tspan dy="-2.3" font-size="1">&#8203;</tspan> arrest in AMPK-DKO cells</text>
<text transform="translate(101.00,446.30) scale(1.0,1)" font-size="12.00" text-anchor="middle" font-weight="normal" fill="#000" stroke="#000" stroke-width="0.1" >WT</text>
<text transform="translate(166.20,445.80) scale(1.0,1)" font-size="12.00" text-anchor="start" font-weight="normal" fill="#000" stroke="#000" stroke-width="0.1"  textLength="53.80" lengthAdjust="spacingAndGlyphs"><tspan font-family="Liberation Serif" font-size="13.5">α</tspan>1/<tspan font-family="Liberation Serif" font-size="13.5">α</tspan>2-KO</text>
<polyline points="59.40,452.20 59.40,448.90 143.90,448.90 143.90,452.20" fill="none" stroke="#1c1c1c" stroke-width="1.2"/>
<polyline points="155.50,452.20 155.50,448.90 239.40,448.90 239.40,452.20" fill="none" stroke="#1c1c1c" stroke-width="1.2"/>
<rect x="61.50" y="573.66" width="9.10" height="9.54" fill="#fff" stroke="#1c1c1c" stroke-width="1.25" />
<line x1="66.05" y1="571.28" x2="66.05" y2="576.05" stroke="#1c1c1c" stroke-width="1.2"/>
<line x1="62.85" y1="571.28" x2="69.25" y2="571.28" stroke="#1c1c1c" stroke-width="1.2"/>
<line x1="62.85" y1="576.05" x2="69.25" y2="576.05" stroke="#1c1c1c" stroke-width="1.2"/>
<rect x="74.20" y="544.56" width="9.10" height="38.64" fill="#d6d6d6" stroke="#1c1c1c" stroke-width="1.25" />
<line x1="78.75" y1="542.02" x2="78.75" y2="547.11" stroke="#1c1c1c" stroke-width="1.2"/>
<line x1="75.55" y1="542.02" x2="81.95" y2="542.02" stroke="#1c1c1c" stroke-width="1.2"/>
<line x1="75.55" y1="547.11" x2="81.95" y2="547.11" stroke="#1c1c1c" stroke-width="1.2"/>
<rect x="86.90" y="478.58" width="9.10" height="104.62" fill="#939393" stroke="#1c1c1c" stroke-width="1.25" />
<line x1="91.45" y1="475.88" x2="91.45" y2="481.28" stroke="#1c1c1c" stroke-width="1.2"/>
<line x1="88.25" y1="475.88" x2="94.65" y2="475.88" stroke="#1c1c1c" stroke-width="1.2"/>
<line x1="88.25" y1="481.28" x2="94.65" y2="481.28" stroke="#1c1c1c" stroke-width="1.2"/>
<rect x="109.30" y="514.83" width="9.10" height="68.37" fill="#fff" stroke="#1c1c1c" stroke-width="1.25" />
<line x1="113.85" y1="512.13" x2="113.85" y2="517.53" stroke="#1c1c1c" stroke-width="1.2"/>
<line x1="110.65" y1="512.13" x2="117.05" y2="512.13" stroke="#1c1c1c" stroke-width="1.2"/>
<line x1="110.65" y1="517.53" x2="117.05" y2="517.53" stroke="#1c1c1c" stroke-width="1.2"/>
<rect x="121.90" y="546.95" width="9.10" height="36.25" fill="#d6d6d6" stroke="#1c1c1c" stroke-width="1.25" />
<line x1="126.45" y1="543.61" x2="126.45" y2="550.29" stroke="#1c1c1c" stroke-width="1.2"/>
<line x1="123.25" y1="543.61" x2="129.65" y2="543.61" stroke="#1c1c1c" stroke-width="1.2"/>
<line x1="123.25" y1="550.29" x2="129.65" y2="550.29" stroke="#1c1c1c" stroke-width="1.2"/>
<rect x="134.50" y="533.12" width="9.10" height="50.09" fill="#939393" stroke="#1c1c1c" stroke-width="1.25" />
<line x1="139.05" y1="526.12" x2="139.05" y2="540.11" stroke="#1c1c1c" stroke-width="1.2"/>
<line x1="135.85" y1="526.12" x2="142.25" y2="526.12" stroke="#1c1c1c" stroke-width="1.2"/>
<line x1="135.85" y1="540.11" x2="142.25" y2="540.11" stroke="#1c1c1c" stroke-width="1.2"/>
<rect x="157.00" y="554.58" width="9.10" height="28.62" fill="#fff" stroke="#1c1c1c" stroke-width="1.25" />
<line x1="161.55" y1="549.17" x2="161.55" y2="559.99" stroke="#1c1c1c" stroke-width="1.2"/>
<line x1="158.35" y1="549.17" x2="164.75" y2="549.17" stroke="#1c1c1c" stroke-width="1.2"/>
<line x1="158.35" y1="559.99" x2="164.75" y2="559.99" stroke="#1c1c1c" stroke-width="1.2"/>
<rect x="169.60" y="550.45" width="9.10" height="32.75" fill="#d6d6d6" stroke="#1c1c1c" stroke-width="1.25" />
<line x1="171.15" y1="550.45" x2="177.15" y2="550.45" stroke="#1c1c1c" stroke-width="2.2"/>
<rect x="182.20" y="501.32" width="9.10" height="81.88" fill="#939393" stroke="#1c1c1c" stroke-width="1.25" />
<line x1="186.75" y1="498.45" x2="186.75" y2="504.18" stroke="#1c1c1c" stroke-width="1.2"/>
<line x1="183.55" y1="498.45" x2="189.95" y2="498.45" stroke="#1c1c1c" stroke-width="1.2"/>
<line x1="183.55" y1="504.18" x2="189.95" y2="504.18" stroke="#1c1c1c" stroke-width="1.2"/>
<rect x="203.90" y="534.71" width="9.20" height="48.50" fill="#fff" stroke="#1c1c1c" stroke-width="1.25" />
<line x1="208.50" y1="531.37" x2="208.50" y2="538.04" stroke="#1c1c1c" stroke-width="1.2"/>
<line x1="205.30" y1="531.37" x2="211.70" y2="531.37" stroke="#1c1c1c" stroke-width="1.2"/>
<line x1="205.30" y1="538.04" x2="211.70" y2="538.04" stroke="#1c1c1c" stroke-width="1.2"/>
<rect x="216.90" y="549.33" width="9.20" height="33.87" fill="#d6d6d6" stroke="#1c1c1c" stroke-width="1.25" />
<line x1="221.50" y1="545.20" x2="221.50" y2="553.47" stroke="#1c1c1c" stroke-width="1.2"/>
<line x1="218.30" y1="545.20" x2="224.70" y2="545.20" stroke="#1c1c1c" stroke-width="1.2"/>
<line x1="218.30" y1="553.47" x2="224.70" y2="553.47" stroke="#1c1c1c" stroke-width="1.2"/>
<rect x="229.90" y="514.83" width="9.20" height="68.37" fill="#939393" stroke="#1c1c1c" stroke-width="1.25" />
<line x1="234.50" y1="506.88" x2="234.50" y2="522.78" stroke="#1c1c1c" stroke-width="1.2"/>
<line x1="231.30" y1="506.88" x2="237.70" y2="506.88" stroke="#1c1c1c" stroke-width="1.2"/>
<line x1="231.30" y1="522.78" x2="237.70" y2="522.78" stroke="#1c1c1c" stroke-width="1.2"/>
<text transform="translate(114.30,511.70) scale(1.0,1)" font-size="11.00" text-anchor="middle" font-weight="normal" fill="#000" stroke="#000" stroke-width="0.1" >****</text>
<text transform="translate(139.90,526.90) scale(1.0,1)" font-size="11.00" text-anchor="middle" font-weight="normal" fill="#000" stroke="#000" stroke-width="0.1" >****</text>
<text transform="translate(161.90,545.80) scale(1.0,1)" font-size="10.60" text-anchor="middle" font-weight="normal" fill="#000" stroke="#000" stroke-width="0.1" >†</text>
<text transform="translate(187.10,493.60) scale(1.0,1)" font-size="10.60" text-anchor="middle" font-weight="normal" fill="#000" stroke="#000" stroke-width="0.1" >††</text>
<text transform="translate(209.20,522.00) scale(1.0,1)" font-size="10.60" text-anchor="middle" font-weight="normal" fill="#000" stroke="#000" stroke-width="0.1" >††</text>
<text transform="translate(209.10,531.50) scale(1.0,1)" font-size="10.00" text-anchor="middle" font-weight="normal" fill="#000" stroke="#000" stroke-width="0.1" >**</text>
<text transform="translate(234.60,504.50) scale(1.0,1)" font-size="10.60" text-anchor="middle" font-weight="normal" fill="#000" stroke="#000" stroke-width="0.1" >†</text>
<rect x="54.80" y="456.10" width="190.50" height="127.10" fill="none" stroke="#1c1c1c" stroke-width="1.25" />
<line x1="54.80" y1="551.40" x2="60.20" y2="551.40" stroke="#1c1c1c" stroke-width="1.25"/>
<text transform="translate(51.50,556.00) scale(1.0,1)" font-size="11.80" text-anchor="end" font-weight="normal" fill="#000" stroke="#000" stroke-width="0.1" >20</text>
<line x1="54.80" y1="519.60" x2="60.20" y2="519.60" stroke="#1c1c1c" stroke-width="1.25"/>
<text transform="translate(51.50,524.20) scale(1.0,1)" font-size="11.80" text-anchor="end" font-weight="normal" fill="#000" stroke="#000" stroke-width="0.1" >40</text>
<line x1="54.80" y1="487.80" x2="60.20" y2="487.80" stroke="#1c1c1c" stroke-width="1.25"/>
<text transform="translate(51.50,492.40) scale(1.0,1)" font-size="11.80" text-anchor="end" font-weight="normal" fill="#000" stroke="#000" stroke-width="0.1" >60</text>
<text transform="translate(14.80,519.20) rotate(-90) scale(1.0,1)" font-size="12.45" text-anchor="middle" fill="#000" stroke="#000" stroke-width="0.1">Proportion in cell</text>
<text transform="translate(30.30,521.20) rotate(-90) scale(1.0,1)" font-size="12.55" text-anchor="middle" fill="#000" stroke="#000" stroke-width="0.1">-cycle phase (%)</text>
<text transform="translate(58.90,592.90) scale(1.11,1)" font-size="9.19" text-anchor="start" font-weight="normal" fill="#000" stroke="#000" stroke-width="0.1" >G<tspan font-size="6" dy="1.8">1</tspan><tspan dy="-1.8" font-size="1">&#8203;</tspan></text>
<text transform="translate(78.40,592.90) scale(1.11,1)" font-size="9.19" text-anchor="middle" font-weight="normal" fill="#000" stroke="#000" stroke-width="0.1" >S</text>
<text transform="translate(84.40,592.90) scale(1.11,1)" font-size="9.19" text-anchor="start" font-weight="normal" fill="#000" stroke="#000" stroke-width="0.1" >G<tspan font-size="6" dy="1.8">2</tspan><tspan dy="-1.8" font-size="1">&#8203;</tspan></text>
<polyline points="60.60,595.80 60.60,599.00 96.20,599.00 96.20,595.80" fill="none" stroke="#1c1c1c" stroke-width="1.2"/>
<text transform="translate(107.30,592.90) scale(1.11,1)" font-size="9.19" text-anchor="start" font-weight="normal" fill="#000" stroke="#000" stroke-width="0.1" >G<tspan font-size="6" dy="1.8">1</tspan><tspan dy="-1.8" font-size="1">&#8203;</tspan></text>
<text transform="translate(126.80,592.90) scale(1.11,1)" font-size="9.19" text-anchor="middle" font-weight="normal" fill="#000" stroke="#000" stroke-width="0.1" >S</text>
<text transform="translate(132.80,592.90) scale(1.11,1)" font-size="9.19" text-anchor="start" font-weight="normal" fill="#000" stroke="#000" stroke-width="0.1" >G<tspan font-size="6" dy="1.8">2</tspan><tspan dy="-1.8" font-size="1">&#8203;</tspan></text>
<polyline points="109.00,595.80 109.00,599.00 144.60,599.00 144.60,595.80" fill="none" stroke="#1c1c1c" stroke-width="1.2"/>
<text transform="translate(155.10,592.90) scale(1.11,1)" font-size="9.19" text-anchor="start" font-weight="normal" fill="#000" stroke="#000" stroke-width="0.1" >G<tspan font-size="6" dy="1.8">1</tspan><tspan dy="-1.8" font-size="1">&#8203;</tspan></text>
<text transform="translate(174.60,592.90) scale(1.11,1)" font-size="9.19" text-anchor="middle" font-weight="normal" fill="#000" stroke="#000" stroke-width="0.1" >S</text>
<text transform="translate(180.60,592.90) scale(1.11,1)" font-size="9.19" text-anchor="start" font-weight="normal" fill="#000" stroke="#000" stroke-width="0.1" >G<tspan font-size="6" dy="1.8">2</tspan><tspan dy="-1.8" font-size="1">&#8203;</tspan></text>
<polyline points="156.80,595.80 156.80,599.00 192.40,599.00 192.40,595.80" fill="none" stroke="#1c1c1c" stroke-width="1.2"/>
<text transform="translate(202.70,592.90) scale(1.11,1)" font-size="9.19" text-anchor="start" font-weight="normal" fill="#000" stroke="#000" stroke-width="0.1" >G<tspan font-size="6" dy="1.8">1</tspan><tspan dy="-1.8" font-size="1">&#8203;</tspan></text>
<text transform="translate(222.20,592.90) scale(1.11,1)" font-size="9.19" text-anchor="middle" font-weight="normal" fill="#000" stroke="#000" stroke-width="0.1" >S</text>
<text transform="translate(228.20,592.90) scale(1.11,1)" font-size="9.19" text-anchor="start" font-weight="normal" fill="#000" stroke="#000" stroke-width="0.1" >G<tspan font-size="6" dy="1.8">2</tspan><tspan dy="-1.8" font-size="1">&#8203;</tspan></text>
<polyline points="204.40,595.80 204.40,599.00 240.00,599.00 240.00,595.80" fill="none" stroke="#1c1c1c" stroke-width="1.2"/>
<text transform="translate(78.50,611.40) scale(1,1)" font-size="9.80" text-anchor="middle" font-weight="normal" fill="#000" stroke="#000" stroke-width="0.1" >GFP</text>
<text transform="translate(126.20,611.40) scale(1,1)" font-size="9.80" text-anchor="middle" font-weight="normal" fill="#000" stroke="#000" stroke-width="0.1" >GFP-CA</text>
<text transform="translate(173.50,611.40) scale(1,1)" font-size="9.80" text-anchor="middle" font-weight="normal" fill="#000" stroke="#000" stroke-width="0.1" >GFP</text>
<text transform="translate(221.80,611.40) scale(1,1)" font-size="9.80" text-anchor="middle" font-weight="normal" fill="#000" stroke="#000" stroke-width="0.1" >GFP-CA</text>
<text x="302.20" y="431.80" font-size="17" font-weight="bold" fill="#000">F</text>
<text transform="translate(320.20,429.70) scale(1.0,1)" font-size="12.00" text-anchor="start" font-weight="normal" fill="#000" stroke="#000" stroke-width="0.1"  textLength="195.20" lengthAdjust="spacingAndGlyphs">Reduced G<tspan font-size="7.6" dy="2.3">1</tspan><tspan dy="-2.3" font-size="1">&#8203;</tspan>:G<tspan font-size="7.6" dy="2.3">2</tspan><tspan dy="-2.3" font-size="1">&#8203;</tspan> in AMPK-DKO cells</text>
<text transform="translate(395.10,445.60) scale(1.0,1)" font-size="12.00" text-anchor="middle" font-weight="normal" fill="#000" stroke="#000" stroke-width="0.1" >WT</text>
<text transform="translate(431.20,446.00) scale(1.0,1)" font-size="12.00" text-anchor="start" font-weight="normal" fill="#000" stroke="#000" stroke-width="0.1"  textLength="54.00" lengthAdjust="spacingAndGlyphs"><tspan font-family="Liberation Serif" font-size="13.5">α</tspan>1/<tspan font-family="Liberation Serif" font-size="13.5">α</tspan>2-KO</text>
<polyline points="367.10,452.40 367.10,449.20 423.50,449.20 423.50,452.40" fill="none" stroke="#1c1c1c" stroke-width="1.2"/>
<polyline points="430.50,452.40 430.50,449.20 487.20,449.20 487.20,452.40" fill="none" stroke="#1c1c1c" stroke-width="1.2"/>
<rect x="366.90" y="576.00" width="24.70" height="6.40" fill="#fff" stroke="#1c1c1c" stroke-width="1.25" />
<line x1="373.40" y1="576.40" x2="385.90" y2="576.40" stroke="#1c1c1c" stroke-width="2.4"/>
<rect x="398.90" y="487.70" width="24.40" height="94.70" fill="#939393" stroke="#1c1c1c" stroke-width="1.25" />
<line x1="410.90" y1="471.00" x2="410.90" y2="504.20" stroke="#1c1c1c" stroke-width="1.2"/>
<line x1="404.50" y1="471.00" x2="417.30" y2="471.00" stroke="#1c1c1c" stroke-width="1.2"/>
<line x1="404.50" y1="504.20" x2="417.30" y2="504.20" stroke="#1c1c1c" stroke-width="1.2"/>
<text transform="translate(410.80,469.10) scale(1.0,1)" font-size="10.00" text-anchor="middle" font-weight="normal" fill="#000" stroke="#000" stroke-width="0.1" >***</text>
<rect x="430.50" y="560.40" width="24.90" height="22.00" fill="#fff" stroke="#1c1c1c" stroke-width="1.25" />
<line x1="443.00" y1="557.00" x2="443.00" y2="564.30" stroke="#1c1c1c" stroke-width="1.2"/>
<line x1="436.70" y1="557.00" x2="449.30" y2="557.00" stroke="#1c1c1c" stroke-width="1.2"/>
<line x1="436.70" y1="564.30" x2="449.30" y2="564.30" stroke="#1c1c1c" stroke-width="1.2"/>
<rect x="462.30" y="534.30" width="24.90" height="48.10" fill="#939393" stroke="#1c1c1c" stroke-width="1.25" />
<line x1="474.80" y1="526.20" x2="474.80" y2="542.60" stroke="#1c1c1c" stroke-width="1.2"/>
<line x1="468.50" y1="526.20" x2="481.10" y2="526.20" stroke="#1c1c1c" stroke-width="1.2"/>
<line x1="468.50" y1="542.60" x2="481.10" y2="542.60" stroke="#1c1c1c" stroke-width="1.2"/>
<text transform="translate(475.00,522.00) scale(1.0,1)" font-size="11.00" text-anchor="middle" font-weight="normal" fill="#000" stroke="#000" stroke-width="0.1" >†</text>
<rect x="363.50" y="455.40" width="127.20" height="127.00" fill="none" stroke="#1c1c1c" stroke-width="1.25" />
<line x1="363.50" y1="550.75" x2="368.90" y2="550.75" stroke="#1c1c1c" stroke-width="1.25"/>
<text transform="translate(361.20,555.55) scale(1.0,1)" font-size="11.80" text-anchor="end" font-weight="normal" fill="#000" stroke="#000" stroke-width="0.1" >0.5</text>
<line x1="363.50" y1="519.10" x2="368.90" y2="519.10" stroke="#1c1c1c" stroke-width="1.25"/>
<text transform="translate(361.20,523.90) scale(1.0,1)" font-size="11.80" text-anchor="end" font-weight="normal" fill="#000" stroke="#000" stroke-width="0.1" >1.0</text>
<line x1="363.50" y1="487.45" x2="368.90" y2="487.45" stroke="#1c1c1c" stroke-width="1.25"/>
<text transform="translate(361.20,492.25) scale(1.0,1)" font-size="11.80" text-anchor="end" font-weight="normal" fill="#000" stroke="#000" stroke-width="0.1" >1.5</text>
<text transform="translate(333.60,518.20) rotate(-90) scale(1,1)" font-size="13.50" text-anchor="middle" fill="#000" stroke="#000" stroke-width="0.1">G<tspan font-size="8.8" dy="3">1</tspan><tspan dy="-3" font-size="1">&#8203;</tspan>–G<tspan font-size="8.8" dy="3">2</tspan><tspan dy="-3" font-size="1">&#8203;</tspan></text>
<text transform="translate(379.60,594.60) scale(1,1)" font-size="8.90" text-anchor="middle" font-weight="normal" fill="#000" stroke="#000" stroke-width="0.1" >GFP</text>
<text transform="translate(411.40,594.60) scale(1,1)" font-size="8.90" text-anchor="middle" font-weight="normal" fill="#000" stroke="#000" stroke-width="0.1" >GFP-CA</text>
<text transform="translate(443.30,594.60) scale(1,1)" font-size="8.90" text-anchor="middle" font-weight="normal" fill="#000" stroke="#000" stroke-width="0.1" >GFP</text>
<text transform="translate(474.70,594.60) scale(1,1)" font-size="8.90" text-anchor="middle" font-weight="normal" fill="#000" stroke="#000" stroke-width="0.1" >GFP-CA</text>
</svg></body></html>
